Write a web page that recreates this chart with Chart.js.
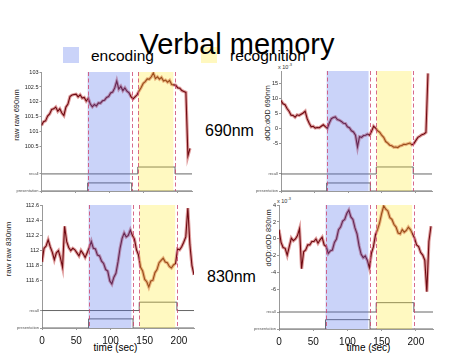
<!DOCTYPE html>
<html><head><meta charset="utf-8">
<script src="https://cdn.jsdelivr.net/npm/chart.js@4.4.0/dist/chart.umd.min.js"></script>
<style>
html,body{margin:0;padding:0;background:#fff;width:474px;height:355px;overflow:hidden;font-family:"Liberation Sans",Arial,sans-serif;}
#wrap{position:relative;width:474px;height:355px;}
.abs{position:absolute;white-space:nowrap;color:#000;line-height:1;}
.rot{position:absolute;white-space:nowrap;color:#222;line-height:1;transform:translate(-50%,-50%) rotate(-90deg);}
canvas{position:absolute;}
</style></head><body>
<div id="wrap">
  <div class="abs" style="left:63px;top:47px;width:16px;height:16px;background:#cad3f9"></div>
  <div class="abs" style="left:201px;top:47px;width:16px;height:16px;background:#fff8bf"></div>
  <div class="abs" style="left:91px;top:47.9px;font-size:15.5px">encoding</div>
  <div class="abs" style="left:230px;top:47.9px;font-size:15.5px">recognition</div>
  <div class="abs" style="left:0;width:474px;text-align:center;top:30.4px;font-size:29px">Verbal memory</div>
  <div class="abs" style="left:205px;top:122.5px;font-size:16px">690nm</div>
  <div class="abs" style="left:207px;top:268.5px;font-size:16px">830nm</div>
  <div class="abs" style="left:278px;top:63px;font-size:5.5px;color:#333">x 10<sup style="font-size:4px">-3</sup></div>
  <div class="abs" style="left:277px;top:197px;font-size:5.5px;color:#333">x 10<sup style="font-size:4px">-3</sup></div>
  <div class="rot" style="left:17px;top:115px;font-size:7.5px">raw raw 690nm</div>
  <div class="rot" style="left:8.5px;top:249px;font-size:8px">raw raw 830nm</div>
  <div class="rot" style="left:267.5px;top:113px;font-size:7.2px">dOD:dOD 690nm</div>
  <div class="rot" style="left:269px;top:238px;font-size:7.4px">dOD:dOD 830nm</div>
  <div class="abs" style="left:115.5px;top:343px;font-size:10px;transform:translateX(-50%)">time (sec)</div>
  <div class="abs" style="left:368.5px;top:343px;font-size:10px;transform:translateX(-50%)">time (sec)</div>
  <canvas id="tl" width="200" height="140" style="left:0;top:60px"></canvas>
  <canvas id="tr" width="200" height="140" style="left:237px;top:60px"></canvas>
  <canvas id="bl" width="200" height="160" style="left:0;top:195px"></canvas>
  <canvas id="br" width="200" height="160" style="left:237px;top:195px"></canvas>
</div>
<script>
// ---- data ----
const time = [0,3,6,9,12,15,18,21,24,27,
  30,33,36,39,42,45,48,51,54,57,
  60,63,66,69,72,75,78,81,84,87,
  90,93,96,99,102,105,108,111,114,117,
  120,123,126,129,132,135,138,141,144,147,
  150,153,156,159,162,165,168,171,174,177,
  180,183,186,189,192,195,198,201,204,207,
  210,213,216,219,222];
const raw690 = [101.22,101.34,101.37,101.53,101.6,101.75,101.77,101.83,101.69,101.77,
  101.63,101.55,101.83,101.93,102.18,102.23,102.25,102.26,102.17,102.24,
  102.13,102.15,102.03,102.12,101.93,101.84,101.92,101.87,101.97,101.96,
  102.04,102.06,102.15,102.18,102.3,102.33,102.47,102.7,102.43,102.52,
  102.38,102.47,102.36,102.31,102.18,102.1,102.17,102.24,102.37,102.48,
  102.62,102.68,102.77,102.76,102.84,102.97,102.78,102.84,102.76,102.82,
  102.7,102.73,102.66,102.72,102.58,102.57,102.56,102.47,102.46,102.38,
  102.35,102.32,100.2,100.45,null];
const dod690 = [9.5,8.4,8.1,6.8,5.9,4.6,4.5,3.9,4.7,4.5,
  4.9,5.3,5.9,3.4,1.9,0.7,0.9,0.3,0.5,0.4,
  0.9,1.4,0.8,0.2,2.0,3.4,3.8,4.0,3.1,2.9,
  2.5,1.9,1.8,0.7,0.4,-0.6,-1.0,-2.1,-6.0,-2.6,
  -2.8,-2.2,-2.1,-1.7,-2.1,-0.8,0.9,0.3,-0.6,-1.1,
  -2.1,-2.8,-4.2,-4.7,-5.4,-5.6,-6.1,-6.0,-6.2,-5.7,
  -5.5,-5.1,-5.2,-4.9,-4.7,-5.3,-4.9,-3.8,-2.8,-2.4,
  -1.9,-1.7,-1.2,18.5,null];
const raw830 = [111.85,112.03,112.06,112.14,112.05,111.98,111.88,111.97,112.0,111.9,
  111.78,112.32,112.12,112.04,112.0,112.03,112.01,111.97,111.93,112.0,
  111.96,111.91,111.97,112.04,112.12,112.03,112.02,111.94,111.93,111.86,
  111.83,111.75,111.73,111.6,111.56,111.65,111.7,111.85,112.03,112.16,
  112.23,112.18,112.2,112.27,112.2,112.15,112.01,111.94,111.78,111.73,
  111.62,111.59,111.52,111.6,111.61,111.71,111.75,111.84,111.87,111.9,
  111.85,111.84,111.79,111.77,111.81,111.83,112.02,112.01,112.05,112.11,
  112.18,112.56,112.08,111.8,111.68];
const dod830 = [1.1,-0.4,-1.0,-1.1,-1.9,-0.9,0.1,-0.2,0.0,0.4,
  1.2,-3.5,-1.5,-1.3,-0.7,-0.7,-0.3,-0.3,0.0,-0.5,
  -0.1,0.2,-0.7,-0.9,-1.7,-1.4,-1.3,-0.4,0.0,1.1,
  1.4,2.1,2.3,3.0,3.4,2.6,2.3,1.3,0.6,-0.8,
  -1.8,-2.2,-2.0,-2.5,-3.4,-1.7,-0.9,0.5,1.1,1.9,
  3.0,3.9,3.5,3.3,2.5,2.3,1.7,1.4,0.7,0.6,
  1.1,0.8,1.0,1.4,1.1,0.6,0.1,-0.7,-0.9,-1.6,
  -1.9,-2.5,-6.2,-0.3,1.5];
// events (sec)
const presTime = [0,68,133,225];
const presState = [0,1,0,0];
const recTime = [0,142,197,225];
const recState = [0,1,0,0];
const encodingSpan = [68,130.5];
const recognitionSpan = [142.5,194.5];
const markerTimes = [68,133,142,197];
// tick labels
const xTicks = [0,50,100,150,200];
const ticksRaw690 = [100.5,101,101.5,102,102.5,103];
const ticksDod690 = [-5,0,5,10,15];
const ticksRaw830 = [111.6,111.8,112,112.2,112.4,112.6];
const ticksDod830 = [-6,-4,-2,0,2,4];

const F = '"Liberation Sans", Arial, sans-serif';

const overlay = {
  id:'overlay',
  afterDatasetsDraw(chart){
    const {ctx, chartArea:a, scales:{x}} = chart;
    ctx.save();
    const band=(s,col)=>{
      const x0=x.getPixelForValue(s[0]), x1=x.getPixelForValue(s[1]);
      ctx.fillStyle=col; ctx.fillRect(x0,a.top,x1-x0,a.bottom-a.top);
    };
    band(encodingSpan,'rgba(80,110,235,0.3)');
    band(recognitionSpan,'rgba(255,236,50,0.3)');
    ctx.beginPath(); ctx.rect(a.left,a.top,a.right-a.left,a.bottom-a.top); ctx.clip();
    ctx.strokeStyle='rgba(205,70,110,0.8)'; ctx.lineWidth=1; ctx.setLineDash([4,2.5]);
    markerTimes.forEach(t=>{
      const px=Math.round(x.getPixelForValue(t))+0.5;
      ctx.beginPath(); ctx.moveTo(px,a.top); ctx.lineTo(px,a.bottom); ctx.stroke();
    });
    ctx.restore();
  }
};

function makePanel(p){
  const pts = time.map((t,i)=>({x:t,y:p.values[i]}));
  const step = (ts,st,lo,hi)=>ts.map((t,i)=>({x:t,y:st[i]?hi:lo}));
  const yTicks = [p.presLow,p.recLow].concat(p.ticks);
  const special = v => v===p.presLow || v===p.recLow;
  new Chart(document.getElementById(p.id), {
    type:'line',
    data:{datasets:[
      {data:pts, borderColor:'#6e0a12', borderWidth:1.1, pointRadius:0, tension:0},
      {data:pts, borderColor:'rgba(185,35,35,0.45)', borderWidth:3.2, pointRadius:0, tension:0},
      {data:step(recTime,recState,p.recLow,p.recHigh), borderColor:'#666', borderWidth:1, stepped:true, pointRadius:0},
      {data:step(presTime,presState,p.presLow,p.presHigh), borderColor:'#666', borderWidth:1, stepped:true, pointRadius:0}
    ]},
    options:{
      responsive:false, animation:false, devicePixelRatio:1,
      layout:{padding:p.pad},
      plugins:{legend:{display:false}, tooltip:{enabled:false}, title:{display:false}},
      scales:{
        x:{type:'linear', min:0, max:p.xmax,
          afterBuildTicks(s){ s.ticks = xTicks.map(v=>({value:v})); },
          afterFit(s){ s.height = p.xHeight; },
          grid:{display:true, drawOnChartArea:false, drawTicks:true, tickLength:2, color:'#999'},
          border:{display:true, color:'#999', width:1},
          ticks:{display:p.showX, font:{family:F,size:10}, color:'#111', padding:5, maxRotation:0, autoSkip:false}
        },
        y:{type:'linear', min:p.ymin, max:p.ymax,
          afterBuildTicks(s){ s.ticks = yTicks.map(v=>({value:v})); },
          afterFit(s){ s.width = p.yWidth; },
          grid:{display:true, drawOnChartArea:false, drawTicks:true, tickLength:2, color:'#999'},
          border:{display:true, color:'#999', width:1},
          ticks:{autoSkip:false, padding:1,
            font:c=>({family:F, size:(c.tick && special(c.tick.value))?4:5.5}),
            color:c=>(c.tick && special(c.tick.value))?'#555':'#222',
            callback:v=> v===p.recLow?'recall':(v===p.presLow?'presentation':String(v))
          }
        }
      }
    },
    plugins:[overlay]
  });
}

makePanel({id:'tl', values:raw690, ticks:ticksRaw690, xmax:222, ymin:99.03, ymax:103,
  presLow:99.03, presHigh:99.3, recLow:99.6, recHigh:99.83,
  pad:{left:0,top:12,right:8,bottom:9}, yWidth:41.5, xHeight:0, showX:false});
makePanel({id:'tr', values:dod690, ticks:ticksDod690, xmax:225, ymin:-20.67, ymax:19.3,
  presLow:-20.67, presHigh:-18, recLow:-15, recHigh:-12.67,
  pad:{left:0,top:11,right:5,bottom:9}, yWidth:44, xHeight:0, showX:false});
makePanel({id:'bl', values:raw830, ticks:ticksRaw830, xmax:222, ymin:110.98, ymax:112.6,
  presLow:110.98, presHigh:111.1, recLow:111.21, recHigh:111.32,
  pad:{left:0,top:10,right:6,bottom:0}, yWidth:42, xHeight:27, showX:true});
makePanel({id:'br', values:dod830, ticks:ticksDod830, xmax:225, ymin:-10.6, ymax:4,
  presLow:-10.6, presHigh:-9.5, recLow:-8.6, recHigh:-7.5,
  pad:{left:0,top:10,right:4,bottom:0}, yWidth:42, xHeight:26, showX:true});
</script>
</body></html>
